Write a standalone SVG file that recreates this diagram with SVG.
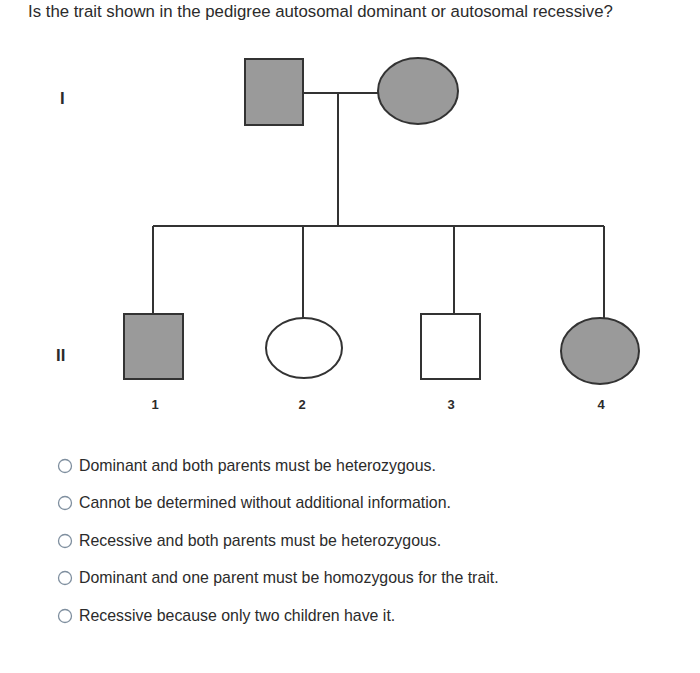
<svg xmlns="http://www.w3.org/2000/svg" width="700" height="673" viewBox="0 0 700 673">
<style>
.t{font-family:"Liberation Sans",Arial,sans-serif;fill:#2b2b2b}
.q{font-size:16.8px}
.o{font-size:15.9px}
.n{font-size:13px;font-weight:bold}
.a{fill:#9a9a9a;stroke:#333;stroke-width:2}
.u{fill:#fff;stroke:#333;stroke-width:2}
.r{fill:#fff;stroke:#7f8f9f;stroke-width:1.3}
</style>
<rect width="700" height="673" fill="#fff"/>
<text class="t q" x="28" y="17">Is the trait shown in the pedigree autosomal dominant or autosomal recessive?</text>
<text class="t q" x="60" y="104" font-weight="bold">I</text>
<text class="t q" x="56" y="361" font-weight="bold">II</text>
<g id="connectors" fill="none" stroke="#333" stroke-width="2">
<path d="M303 93H378M338 93V226M153 226H604M153 226V314M303 226V318M454 226V314M604 226V318"/>
</g>
<g id="father"><rect class="a" x="245" y="59" width="58" height="66"/></g>
<g id="mother"><ellipse class="a" cx="418" cy="91" rx="40" ry="33"/></g>
<g id="child1"><rect class="a" x="124" y="314" width="59" height="65"/><text class="t n" x="155" y="409" text-anchor="middle">1</text></g>
<g id="child2"><ellipse class="u" cx="304" cy="348" rx="38" ry="30"/><text class="t n" x="302" y="409" text-anchor="middle">2</text></g>
<g id="child3"><rect class="u" x="421" y="314" width="59" height="65"/><text class="t n" x="451" y="409" text-anchor="middle">3</text></g>
<g id="child4"><ellipse class="a" cx="600" cy="351" rx="39" ry="33"/><text class="t n" x="601" y="409" text-anchor="middle">4</text></g>
<g id="options">
<circle class="r" cx="65" cy="466" r="6.5"/><text class="t o" x="79" y="471">Dominant and both parents must be heterozygous.</text>
<circle class="r" cx="65" cy="503" r="6.5"/><text class="t o" x="79" y="508">Cannot be determined without additional information.</text>
<circle class="r" cx="65" cy="541" r="6.5"/><text class="t o" x="79" y="546">Recessive and both parents must be heterozygous.</text>
<circle class="r" cx="65" cy="578" r="6.5"/><text class="t o" x="79" y="583">Dominant and one parent must be homozygous for the trait.</text>
<circle class="r" cx="65" cy="616" r="6.5"/><text class="t o" x="79" y="621">Recessive because only two children have it.</text>
</g>
</svg>
